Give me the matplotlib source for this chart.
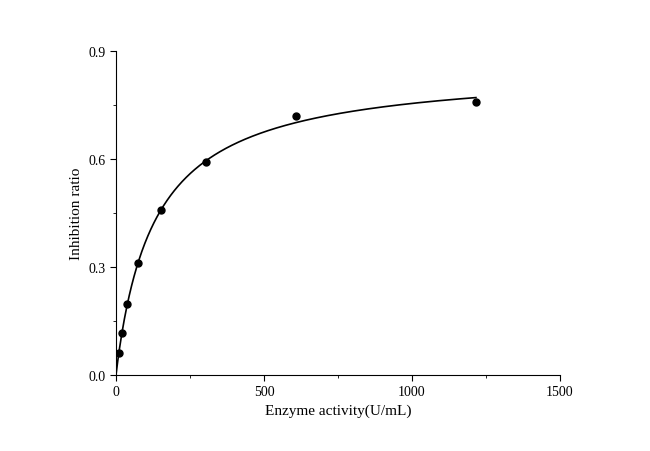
import matplotlib.pyplot as plt
import numpy as np

activity = [0, 9.5, 19, 38, 76, 152, 304, 608, 1216]   # U/mL
inhibition = [0.0, 0.061, 0.117, 0.197, 0.311, 0.458, 0.592, 0.719, 0.758]

plt.rcParams['font.family'] = ['Liberation Serif', 'DejaVu Serif']

x = np.array(activity)
y = np.array(inhibition)

# fit y = a*x^n/(k^n+x^n) by crude grid search
best = None
for n in np.linspace(0.8, 1.6, 41):
    for k in np.linspace(60, 250, 96):
        f = x**n / (k**n + x**n)
        a = (f @ y) / (f @ f)
        err = np.sum((a * f - y) ** 2)
        if best is None or err < best[0]:
            best = (err, a, k, n)
_, a, k, n = best
xs = np.linspace(0, 1216, 600)
ys = a * xs**n / (k**n + xs**n)

fig = plt.figure(figsize=(6.5, 4.52), dpi=100)
ax = fig.add_axes([116/650, 76/452, 444/650, 324/452])
ax.plot(xs, ys, color='black', lw=1.2)
ax.plot(x[1:], y[1:], 'o', color='black', ms=5)
ax.set_xlim(0, 1500)
ax.set_ylim(0, 0.9)
ax.set_xticks([0, 500, 1000, 1500])
ax.set_yticks([0.0, 0.3, 0.6, 0.9])
ax.set_yticklabels(['0.0', '0.3', '0.6', '0.9'])
ax.set_xticks([250, 750, 1250], minor=True)
ax.set_yticks([0.15, 0.45, 0.75], minor=True)
ax.spines['top'].set_visible(False)
ax.spines['right'].set_visible(False)
ax.tick_params(labelsize=10, direction='out', length=4)
ax.tick_params(which='minor', length=2.5)
ax.set_xlabel('Enzyme activity(U/mL)', fontsize=11)
ax.set_ylabel('Inhibition ratio', fontsize=11)
fig.savefig('out.png', dpi=100)
